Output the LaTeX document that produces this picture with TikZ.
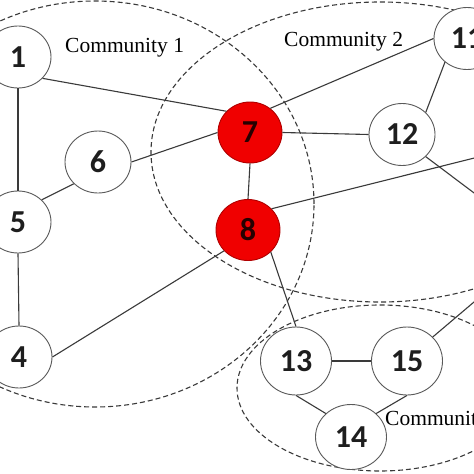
\documentclass[tikz,border=0pt]{standalone}
\usepackage{fontspec}
\setmainfont{Liberation Serif}
\newfontfamily\numfont{Carlito}
\usetikzlibrary{shapes.geometric}
\definecolor{edgec}{HTML}{3A3A3A}
\definecolor{nodeborder}{HTML}{5A5A5A}
\definecolor{redfill}{HTML}{F00000}
\definecolor{redborder}{HTML}{B00000}
\definecolor{txt}{HTML}{1E1E1E}
\tikzset{
  vtx/.style={ellipse, draw=nodeborder, line width=0.9pt, fill=white,
    minimum width=66pt, minimum height=62pt, inner sep=0pt,
    font=\numfont\bfseries\fontsize{32}{32}\selectfont, text=txt},
  bigvtx/.style={vtx, minimum width=71pt, minimum height=68pt},
  hub/.style={vtx, fill=redfill, draw=redborder, minimum width=64pt, minimum height=61pt, text=black!85!red},
  link/.style={draw=edgec, line width=1.1pt},
  comm/.style={draw=edgec, line width=1.1pt, dash pattern=on 5pt off 3pt},
  commlabel/.style={anchor=base west, inner sep=0pt, font=\fontsize{21.5}{22}\selectfont, text=black}
}
\begin{document}
\begin{tikzpicture}[x=1pt, y=-1pt]
\useasboundingbox (0,0) rectangle (474,474);
\clip (0,0) rectangle (474,474);
\fill[white] (0,0) rectangle (474,474);
% communities
\draw[comm] (95,204) ellipse [x radius=219pt, y radius=203pt];
\draw[comm] (380,152) ellipse [x radius=229pt, y radius=150pt];
\draw[comm] (380,388) ellipse [x radius=143pt, y radius=83pt];
\node[commlabel] (lab1) at (65,52) {Community 1};
\node[commlabel] (lab2) at (284,46) {Community 2};
\node[commlabel] (lab3) at (385,425) {Community 3};
% nodes
\node[vtx] (n1) at (18,57) {1};
\node[vtx] (n5) at (18,222) {5};
\node[vtx] (n4) at (19,357) {4};
\node[vtx] (n6) at (98,162) {6};
\node[hub] (n7) at (250,132.5) {7};
\node[hub] (n8) at (248,230) {8};
\node[vtx] (n12) at (402,134.5) {12};
\node[vtx] (n11) at (467,38.5) {11};
\node[bigvtx] (n13) at (296,361) {13};
\node[bigvtx] (n15) at (407,361) {15};
\node[bigvtx, minimum height=65pt] (n14) at (351,437) {14};
\coordinate (o8) at (520,146.6);
\coordinate (o12) at (530,235);
\coordinate (o15) at (520,263);
% edges
\draw[link] (n1.south) -- (n5.north);
\draw[link] (n5.south) -- (n4.north);
\draw[link] (n1.-41) -- (n7.138);
\draw[link] (n5.43) -- (n6.222);
\draw[link] (n6.east) -- (n7.west);
\draw[link] (n7.south) -- (n8.north);
\draw[link] (n7.50) -- (n11.180);
\draw[link] (n7.east) -- (n12.west);
\draw[link] (n11.227) -- (n12.43);
\draw[link] (n4.east) -- (n8.221);
\draw[link] (n8.42) -- (o8);
\draw[link] (n12.-43) -- (o12);
\draw[link] (n8.-44) -- (n13.north);
\draw[link] (n13.east) -- (n15.west);
\draw[link] (n13.south) -- (n14.137);
\draw[link] (n15.south) -- (n14.43);
\draw[link] (n15.43) -- (o15);
\end{tikzpicture}
\end{document}
